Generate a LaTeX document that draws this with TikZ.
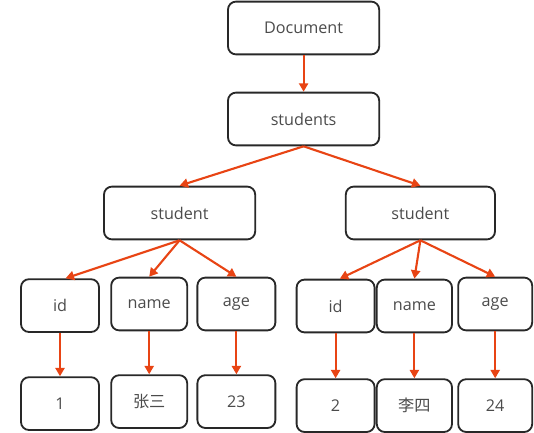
\documentclass[tikz,border=0pt]{standalone}
\usepackage{fontspec}
\setmainfont{Open Sans}
\newfontfamily\cjk{Noto Sans CJK SC}
\definecolor{linkred}{RGB}{232,68,20}
\definecolor{boxgray}{RGB}{40,40,40}
\definecolor{textgray}{RGB}{75,75,75}
\usetikzlibrary{arrows.meta}
\begin{document}
\begin{tikzpicture}[box/.style={draw=boxgray, line width=1.3pt, rounded corners=0.2cm, text=textgray, font=\fontsize{11.5}{13}\selectfont, minimum height=1.32cm}, widebox/.style={box, minimum width=3.78cm}, smallbox/.style={box, minimum width=1.95cm}, link/.style={-{Triangle[length=6pt,width=6.5pt]}, linkred, line width=1.5pt}]
	\useasboundingbox (0,0) rectangle (13.35,-10.825);
	\node[widebox] (D) at (7.59,-0.7) {Document};
	\node[widebox] (S) at (7.59,-2.975) {students};
	\node[widebox] (L) at (4.49,-5.325) {student};
	\node[widebox, minimum width=3.73cm] (R) at (10.51,-5.325) {student};
	\node[smallbox] (LI) at (1.5,-7.64) {id};
	\node[smallbox, minimum width=1.9cm] (LN) at (3.73,-7.6) {name};
	\node[smallbox] (LA) at (5.91,-7.6) {age};
	\node[smallbox] (L1) at (1.5,-10.09) {1};
	\node[smallbox, minimum width=1.9cm] (L2) at (3.73,-10.04) {\cjk 张三};
	\node[smallbox] (L3) at (5.91,-10.04) {23};
	\node[smallbox] (RI) at (8.39,-7.65) {id};
	\node[smallbox, minimum width=1.88cm] (RN) at (10.36,-7.65) {name};
	\node[smallbox, minimum width=1.85cm] (RA) at (12.38,-7.6) {age};
	\node[smallbox] (R1) at (8.39,-10.14) {2};
	\node[smallbox, minimum width=1.88cm] (R2) at (10.36,-10.14) {\cjk 李四};
	\node[smallbox, minimum width=1.85cm] (R3) at (12.38,-10.14) {24};
	\draw[link] (D) -- (S);
	\draw[link] (S.south) -- (L.north);
	\draw[link] (S.south) -- (R.north);
	\draw[link] (L.south) -- ([xshift=4pt]LI.north);
	\draw[link] (L.south) -- (LN.north);
	\draw[link] (L.south) -- (LA.north);
	\draw[link] (R.south) -- ([xshift=3pt]RI.north);
	\draw[link] (R.south) -- (RN.north);
	\draw[link] (R.south) -- (RA.north);
	\draw[link] (LI) -- (L1);
	\draw[link] (LN) -- (L2);
	\draw[link] (LA) -- (L3);
	\draw[link] (RI) -- (R1);
	\draw[link] (RN) -- (R2);
	\draw[link] (RA) -- (R3);
\end{tikzpicture}
\end{document}
